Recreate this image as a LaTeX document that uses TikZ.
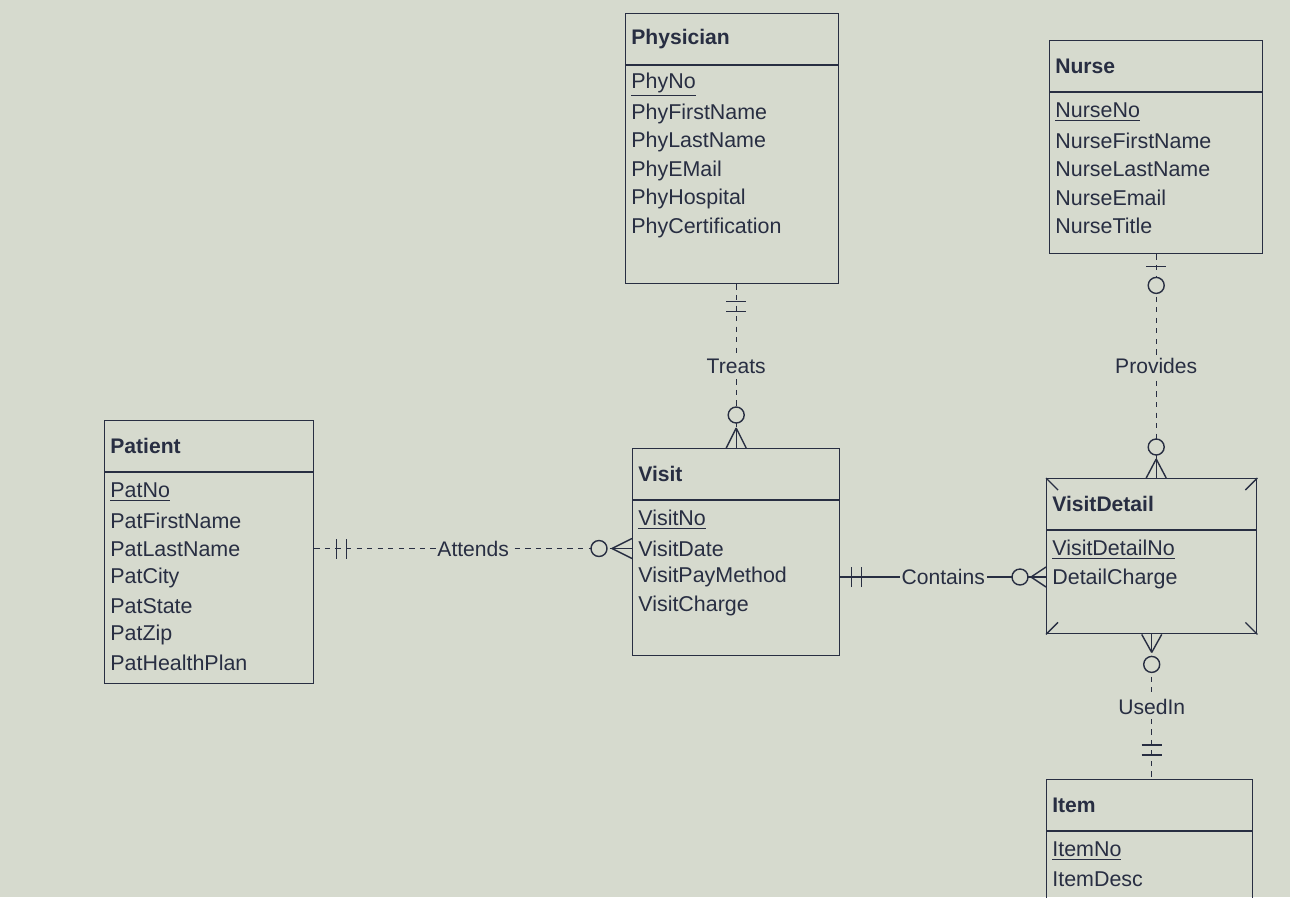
\documentclass[tikz,border=0pt]{standalone}
\usepackage{fontspec}
\setmainfont{Liberation Sans}
\usetikzlibrary{positioning}
\definecolor{erpaper}{RGB}{214,218,206}
\definecolor{erink}{RGB}{40,46,66}

\tikzset{
  entbox/.style={draw=erink, thick, inner sep=0pt},
  enttitle/.style={font=\fontsize{12}{14}\selectfont\bfseries, text=erink, inner sep=0pt},
  entattr/.style={font=\fontsize{12.2}{14}\selectfont, text=erink, inner sep=0pt, anchor=west},
  rel/.style={draw=erink, thick, dashed},
  relsolid/.style={draw=erink, thick},
  rellabel/.style={font=\fontsize{12}{14}\selectfont, text=erink, fill=erpaper, inner sep=1pt},
  ermark/.style={draw=erink, thick, fill=erpaper}
}

% name, north west corner, width, height, title, key, other attributes
\newcommand{\erentity}[7]{%
  \node[entbox, minimum width=#3, minimum height=#4, anchor=north west] (#1) at (#2) {};
  \node[enttitle, anchor=west] (#1-t) at ([xshift=0.12cm,yshift=-0.52cm]#1.north west) {#5};
  \draw[erink, thick] ([yshift=-1.04cm]#1.north west) -- ([yshift=-1.04cm]#1.north east);
  \node[entattr] (#1-a0) at ([xshift=0.12cm,yshift=-1.44cm]#1.north west) {\underline{#6}};
  \foreach \a [count=\i] in {#7}
    \node[entattr] (#1-a\i) at ([xshift=0.12cm,yshift=-1.44cm-\i*0.57cm]#1.north west) {\a};
}

\begin{document}
\begin{tikzpicture}
    % Paper
    \fill[erpaper] (0,0) rectangle (25.8,-17.94);
    \useasboundingbox (0,0) rectangle (25.8,-17.94);

    % Entities
    \erentity{phys}{12.5,-0.26}{4.26cm}{5.4cm}{Physician}{PhyNo}{PhyFirstName,PhyLastName,PhyEMail,PhyHospital,PhyCertification}
    \erentity{nurse}{20.98,-0.8}{4.26cm}{4.26cm}{Nurse}{NurseNo}{NurseFirstName,NurseLastName,NurseEmail,NurseTitle}
    \erentity{pat}{2.08,-8.4}{4.18cm}{5.26cm}{Patient}{PatNo}{PatFirstName,PatLastName,PatCity,PatState,PatZip,PatHealthPlan}
    \erentity{vis}{12.64,-8.96}{4.14cm}{4.14cm}{Visit}{VisitNo}{VisitDate,VisitPayMethod,VisitCharge}
    \erentity{vdet}{20.92,-9.56}{4.2cm}{3.1cm}{VisitDetail}{VisitDetailNo}{DetailCharge}
    \erentity{item}{20.92,-15.58}{4.12cm}{3cm}{Item}{ItemNo}{ItemDesc}

    % Corner marks of VisitDetail
    \draw[erink, thick] (vdet.north west) -- ++(0.24,-0.24);
    \draw[erink, thick] (vdet.north east) -- ++(-0.24,-0.24);
    \draw[erink, thick] (vdet.south west) -- ++(0.24,0.24);
    \draw[erink, thick] (vdet.south east) -- ++(-0.24,0.24);

    % Treats
    \coordinate (tr1) at (phys.south -| vis.north);
    \draw[rel] (tr1) -- node[rellabel] {Treats} (vis.north);
    \draw[erink, thick] ([xshift=-0.2cm,yshift=-0.34cm]tr1) -- ++(0.4,0);
    \draw[erink, thick] ([xshift=-0.2cm,yshift=-0.54cm]tr1) -- ++(0.4,0);
    \draw[erink, thick] ([yshift=0.4cm]vis.north) -- ([xshift=-0.2cm]vis.north);
    \draw[erink, thick] ([yshift=0.4cm]vis.north) -- (vis.north);
    \draw[erink, thick] ([yshift=0.4cm]vis.north) -- ([xshift=0.2cm]vis.north);
    \draw[ermark] ([yshift=0.66cm]vis.north) circle (0.16);

    % Provides
    \coordinate (pr2) at (vdet.north -| nurse.south);
    \draw[rel] (nurse.south) -- node[rellabel] {Provides} (pr2);
    \draw[erink, thick] ([xshift=-0.2cm,yshift=-0.24cm]nurse.south) -- ++(0.4,0);
    \draw[ermark] ([yshift=-0.62cm]nurse.south) circle (0.16);
    \draw[erink, thick] ([yshift=0.38cm]pr2) -- ([xshift=-0.2cm]pr2);
    \draw[erink, thick] ([yshift=0.38cm]pr2) -- (pr2);
    \draw[erink, thick] ([yshift=0.38cm]pr2) -- ([xshift=0.2cm]pr2);
    \draw[ermark] ([yshift=0.62cm]pr2) circle (0.16);

    % Attends
    \coordinate (at1) at (pat.east |- vis-a1);
    \coordinate (at2) at (vis.west |- vis-a1);
    \draw[rel] (at1) -- node[rellabel] {Attends} (at2);
    \draw[erink, thick] ([xshift=0.44cm,yshift=-0.2cm]at1) -- ++(0,0.4);
    \draw[erink, thick] ([xshift=0.64cm,yshift=-0.2cm]at1) -- ++(0,0.4);
    \draw[erink, thick] ([xshift=-0.4cm]at2) -- ([yshift=0.2cm]at2);
    \draw[erink, thick] ([xshift=-0.4cm]at2) -- (at2);
    \draw[erink, thick] ([xshift=-0.4cm]at2) -- ([yshift=-0.2cm]at2);
    \draw[ermark] ([xshift=-0.66cm]at2) circle (0.16);

    % Contains
    \coordinate (co1) at (vis.east |- vis-a2);
    \coordinate (co2) at (vdet.west |- vis-a2);
    \draw[relsolid] (co1) -- node[rellabel] {Contains} (co2);
    \draw[erink, thick] ([xshift=0.22cm,yshift=-0.2cm]co1) -- ++(0,0.4);
    \draw[erink, thick] ([xshift=0.42cm,yshift=-0.2cm]co1) -- ++(0,0.4);
    \draw[erink, thick] ([xshift=-0.3cm]co2) -- ([yshift=0.2cm]co2);
    \draw[erink, thick] ([xshift=-0.3cm]co2) -- (co2);
    \draw[erink, thick] ([xshift=-0.3cm]co2) -- ([yshift=-0.2cm]co2);
    \draw[ermark] ([xshift=-0.52cm]co2) circle (0.16);

    % UsedIn
    \coordinate (us2) at (item.north -| vdet.south);
    \draw[rel] (vdet.south) -- node[rellabel] {UsedIn} (us2);
    \draw[erink, thick] ([yshift=-0.36cm]vdet.south) -- ([xshift=-0.2cm]vdet.south);
    \draw[erink, thick] ([yshift=-0.36cm]vdet.south) -- (vdet.south);
    \draw[erink, thick] ([yshift=-0.36cm]vdet.south) -- ([xshift=0.2cm]vdet.south);
    \draw[ermark] ([yshift=-0.6cm]vdet.south) circle (0.16);
    \draw[erink, thick] ([xshift=-0.2cm,yshift=0.68cm]us2) -- ++(0.4,0);
    \draw[erink, thick] ([xshift=-0.2cm,yshift=0.48cm]us2) -- ++(0.4,0);
\end{tikzpicture}
\end{document}
